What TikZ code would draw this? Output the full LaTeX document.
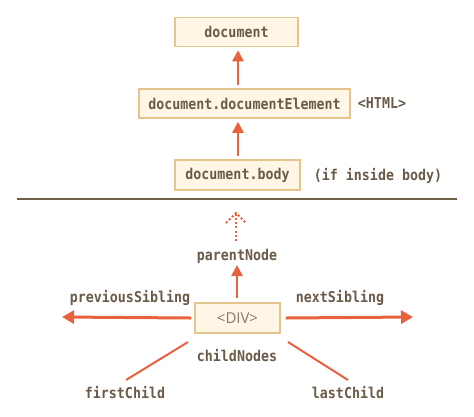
\documentclass[tikz,border=0pt]{standalone}
\usepackage{fontspec}
\setmonofont{DejaVu Sans Mono}[FakeStretch=0.89]
\setsansfont{Open Sans}
\usetikzlibrary{arrows.meta}
\definecolor{boxfill}{HTML}{FFF6E5}
\definecolor{boxline}{HTML}{E6C48E}
\definecolor{txt}{HTML}{6A5A48}
\definecolor{divtxt}{HTML}{857868}
\definecolor{arr}{HTML}{E8623F}
\definecolor{rule}{HTML}{6E6048}
\tikzset{
  box/.style={draw=boxline, line width=1.5bp, fill=boxfill, inner sep=0pt, font=\ttfamily\bfseries\fontsize{15}{17}\selectfont, text=txt},
  lbl/.style={inner sep=0pt, font=\ttfamily\bfseries\fontsize{15}{17}\selectfont, text=txt},
  arrv/.style={draw=arr, line width=2.5bp, -{Triangle[length=11bp,width=11bp]}},
  arrh/.style={draw=arr, line width=3bp, -{Triangle[length=12bp,width=13bp]}},
  childline/.style={draw=arr, line width=2bp},
  dotline/.style={draw=arr, line width=2bp, dash pattern=on 2bp off 2.2bp}
}
\begin{document}
\begin{tikzpicture}[x=1bp,y=-1bp]
\useasboundingbox[fill=white] (0,0) rectangle (474,416);
\node[box, minimum width=123bp, minimum height=29bp] (doc) at (236.5,32) {document};
\node[box, minimum width=211bp, minimum height=29bp] (docel) at (244.5,103.5) {document.documentElement};
\node[box, minimum width=125bp, minimum height=30bp] (body) at (237.5,175) {document.body};
\node[lbl] (html) at (382,103.5) {<HTML>};
\node[lbl] (ifbody) at (378,176) {(if inside body)};
\coordinate (rl) at (17,199);
\coordinate (rr) at (457,199);
\draw[rule, line width=2bp] (rl) -- (rr);
\draw[arrv, shorten <=3bp, shorten >=3bp] (docel.north -| 238,0) -- (doc.south -| 238,0);
\draw[arrv, shorten <=3bp, shorten >=3bp] (body.north -| 238,0) -- (docel.south -| 238,0);

\node[lbl] (parent) at (237,256) {parentNode};
\node[box, font=\sffamily\fontsize{15}{17}\selectfont, text=divtxt, minimum width=85bp, minimum height=30bp] (div) at (237.5,318) {<DIV>};
\node[lbl] (prev) at (130,298) {previousSibling};
\node[lbl] (next) at (340,298) {nextSibling};
\node[lbl] (child) at (237,356) {childNodes};
\node[lbl] (first) at (125,393) {firstChild};
\node[lbl] (last) at (348,393) {lastChild};

\coordinate (pup) at (236,213);
\coordinate (pl) at (226,223);
\coordinate (pr) at (246,223);
\coordinate (pbot) at (236,241);
\draw[dotline] (pbot) -- (pup);
\draw[dotline] (pl) -- (pup) -- (pr);

\draw[arrv] (div.north -| 237,0) ++(0,-4) -- (237,265);
\coordinate (pe) at (62,317);
\coordinate (ne) at (413,317);
\draw[arrh] ([xshift=-3bp]div.west) -- (pe);
\draw[arrh] ([xshift=5bp]div.east) -- (ne);
\coordinate (fl) at (188,342);
\coordinate (fe) at (126,380);
\coordinate (ll) at (288,342);
\coordinate (le) at (348,380);
\draw[childline] (fl) -- (fe);
\draw[childline] (ll) -- (le);
\end{tikzpicture}
\end{document}
